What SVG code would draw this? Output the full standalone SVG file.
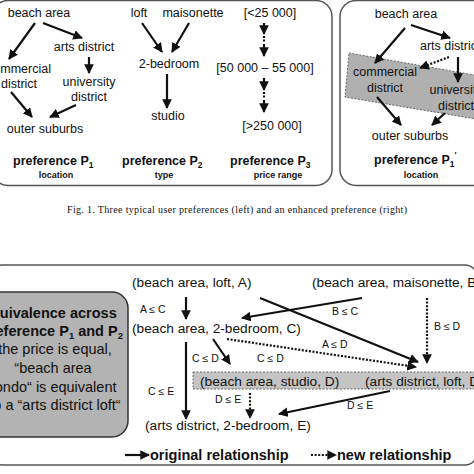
<svg xmlns="http://www.w3.org/2000/svg" width="474" height="474" viewBox="0 0 474 474">
<defs>
<marker id="ah" viewBox="0 0 10 10" refX="9" refY="5" markerWidth="4.4" markerHeight="4.4" markerUnits="strokeWidth" orient="auto">
<path d="M0,0 L10,5 L0,10 z" fill="#111"/>
</marker>
<style>
.t{font-family:"Liberation Sans",Arial,sans-serif;font-size:12.5px;fill:#111}
.m{text-anchor:middle}
.b{font-weight:bold}
.s{font-family:"Liberation Sans",Arial,sans-serif;font-size:9px;font-weight:bold;fill:#111;text-anchor:middle}
.g{font-family:"Liberation Sans",Arial,sans-serif;font-size:13.7px;fill:#111}
.bx{font-family:"Liberation Sans",Arial,sans-serif;font-size:14.5px;fill:#111;text-anchor:middle}
.lg{font-family:"Liberation Sans",Arial,sans-serif;font-size:14.5px;font-weight:bold;fill:#111}
.l{font-family:"Liberation Sans",Arial,sans-serif;font-size:10.5px;fill:#111}
.a{stroke:#111;stroke-width:2.2;fill:none;marker-end:url(#ah)}
.d{stroke:#111;stroke-width:2.2;fill:none;stroke-dasharray:2,1.6;marker-end:url(#ah)}
.dn{stroke:#111;stroke-width:2.2;fill:none;stroke-dasharray:2,1.6}
.panel{fill:#fff;stroke:#555;stroke-width:1.5}
</style>
</defs>
<rect width="474" height="474" fill="#fff"/>

<!-- top panels -->
<rect class="panel" x="-8" y="0.5" width="340" height="185" rx="16"/>
<rect class="panel" x="340" y="0.5" width="150" height="185" rx="16"/>
<polygon points="349,53 480,76 476,119 345,97" fill="#b0b0b0" stroke="#666" stroke-width="1" stroke-dasharray="2,1.5"/>

<g id="connectors-top">
<line class="a" x1="35" y1="23" x2="9" y2="59"/>
<line class="a" x1="43" y1="23" x2="82" y2="38"/>
<line class="a" x1="89" y1="57" x2="89" y2="73"/>
<line class="a" x1="11" y1="92" x2="32" y2="117"/>
<line class="a" x1="76" y1="105" x2="50" y2="117"/>
<line class="a" x1="142" y1="23" x2="162" y2="52"/>
<line class="a" x1="189" y1="23" x2="172" y2="52"/>
<line class="a" x1="167" y1="74" x2="167" y2="108"/>
<line class="a" x1="264" y1="23" x2="264" y2="34"/>
<line class="dn" x1="264" y1="36" x2="264" y2="42"/>
<line class="a" x1="264" y1="44" x2="264" y2="56"/>
<line class="a" x1="264" y1="78" x2="264" y2="90"/>
<line class="dn" x1="264" y1="92" x2="264" y2="98"/>
<line class="a" x1="264" y1="100" x2="264" y2="112"/>
<line class="a" x1="405" y1="28" x2="375" y2="63"/>
<line class="a" x1="411" y1="25" x2="450" y2="38"/>
<line class="a" x1="458" y1="57" x2="458" y2="82"/>
<line class="d" x1="449" y1="57" x2="420" y2="68"/>
<line class="a" x1="377" y1="97" x2="401" y2="125"/>
<line class="a" x1="445" y1="113" x2="432" y2="125"/>
</g>

<g id="p1">
<text class="t m" x="39" y="17">beach area</text>
<text class="t m" x="84" y="51">arts district</text>
<text class="t m" x="19" y="73">commercial</text>
<text class="t m" x="19" y="88">district</text>
<text class="t m" x="89" y="86">university</text>
<text class="t m" x="89" y="101">district</text>
<text class="t m" x="45" y="133">outer suburbs</text>
<text class="t b" x="13" y="165">preference P<tspan font-size="8.5" dy="3">1</tspan></text>
<text class="s" x="56" y="178">location</text>
</g>
<g id="p2">
<text class="t m" x="139" y="17">loft</text>
<text class="t m" x="193" y="17">maisonette</text>
<text class="t m" x="169" y="68">2-bedroom</text>
<text class="t m" x="168" y="120">studio</text>
<text class="t b" x="122" y="165">preference P<tspan font-size="8.5" dy="3">2</tspan></text>
<text class="s" x="164" y="178">type</text>
</g>
<g id="p3">
<text class="t m" x="270" y="17">[&lt;25 000]</text>
<text class="t m" x="265" y="72">[50 000 – 55 000]</text>
<text class="t m" x="272" y="130">[&gt;250 000]</text>
<text class="t b" x="230" y="165">preference P<tspan font-size="8.5" dy="3">3</tspan></text>
<text class="s" x="278" y="178">price range</text>
</g>
<g id="p1prime">
<text class="t m" x="406" y="18">beach area</text>
<text class="t" x="420" y="50">arts district</text>
<text class="t m" x="385" y="76">commercial</text>
<text class="t m" x="385" y="92">district</text>
<text class="t m" x="456" y="94">university</text>
<text class="t m" x="456" y="110">district</text>
<text class="t m" x="410" y="140">outer suburbs</text>
<text class="t b" x="374" y="164">preference P<tspan font-size="8.5" dy="3">1</tspan><tspan font-size="8.5" dy="-9">'</tspan></text>
<text class="s" x="421" y="178">location</text>
</g>

<text x="67" y="213" font-family="Liberation Serif,'Times New Roman',serif" font-size="10" fill="#111" textLength="340">Fig. 1.  Three typical user preferences (left) and an enhanced preference (right)</text>

<!-- bottom panel -->
<rect class="panel" x="-10" y="265" width="487" height="200" rx="12" stroke="#444"/>
<rect x="193" y="372" width="290" height="17" fill="#c4c4c4" stroke="#666" stroke-width="1" stroke-dasharray="2,1.5"/>

<g id="equiv-box">
<rect x="-20" y="292" width="148" height="145" rx="16" fill="#b3b3b3" stroke="#333" stroke-width="1.5"/>
<text class="bx b" x="49" y="318">Equivalence across</text>
<text class="bx b" x="52" y="336">preference P<tspan font-size="9.5" dy="3">1</tspan><tspan dy="-3"> and P</tspan><tspan font-size="9.5" dy="3">2</tspan></text>
<text class="bx" x="55" y="354">the price is equal,</text>
<text class="bx" x="53" y="373">“beach area</text>
<text class="bx" x="52" y="392">condo“ is equivalent</text>
<text class="bx" x="55" y="410">to a “arts district loft“</text>
</g>

<g id="connectors-bottom">
<line class="a" x1="186" y1="297" x2="186" y2="319"/>
<line class="a" x1="362" y1="298" x2="242" y2="318"/>
<line class="a" x1="260" y1="298" x2="418" y2="362"/>
<line class="d" x1="427" y1="298" x2="427" y2="363"/>
<line class="d" x1="227" y1="339" x2="416" y2="367"/>
<line class="a" x1="213" y1="339" x2="230" y2="364"/>
<line class="a" x1="186" y1="342" x2="186" y2="419"/>
<line class="d" x1="250" y1="393" x2="250" y2="418"/>
<line class="a" x1="390" y1="391" x2="279" y2="414"/>
<line class="a" x1="125" y1="455" x2="149" y2="455"/>
<line class="d" x1="311" y1="455" x2="336" y2="455"/>
</g>

<g id="nodeA"><text class="g" x="132" y="287">(beach area, loft, A)</text></g>
<g id="nodeB"><text class="g" x="312" y="287">(beach area, maisonette, B)</text></g>
<g id="nodeC"><text class="g" x="132" y="333">(beach area, 2-bedroom, C)</text></g>
<g id="nodeD1"><text class="g" x="200" y="386">(beach area, studio, D)</text></g>
<g id="nodeD2"><text class="g" x="365" y="386">(arts district, loft, D)</text></g>
<g id="nodeE"><text class="g" x="145" y="430">(arts district, 2-bedroom, E)</text></g>

<g id="labels">
<text class="l" x="140" y="313">A ≤ C</text>
<text class="l" x="332" y="315">B ≤ C</text>
<text class="l" x="434" y="330">B ≤ D</text>
<text class="l" x="322" y="348">A ≤ D</text>
<text class="l" x="192" y="362">C ≤ D</text>
<text class="l" x="257" y="362">C ≤ D</text>
<text class="l" x="148" y="395">C ≤ E</text>
<text class="l" x="215" y="403">D ≤ E</text>
<text class="l" x="347" y="409">D ≤ E</text>
</g>

<g id="legend">
<text class="lg" x="150" y="460">original relationship</text>
<text class="lg" x="337" y="460">new relationship</text>
</g>
</svg>
